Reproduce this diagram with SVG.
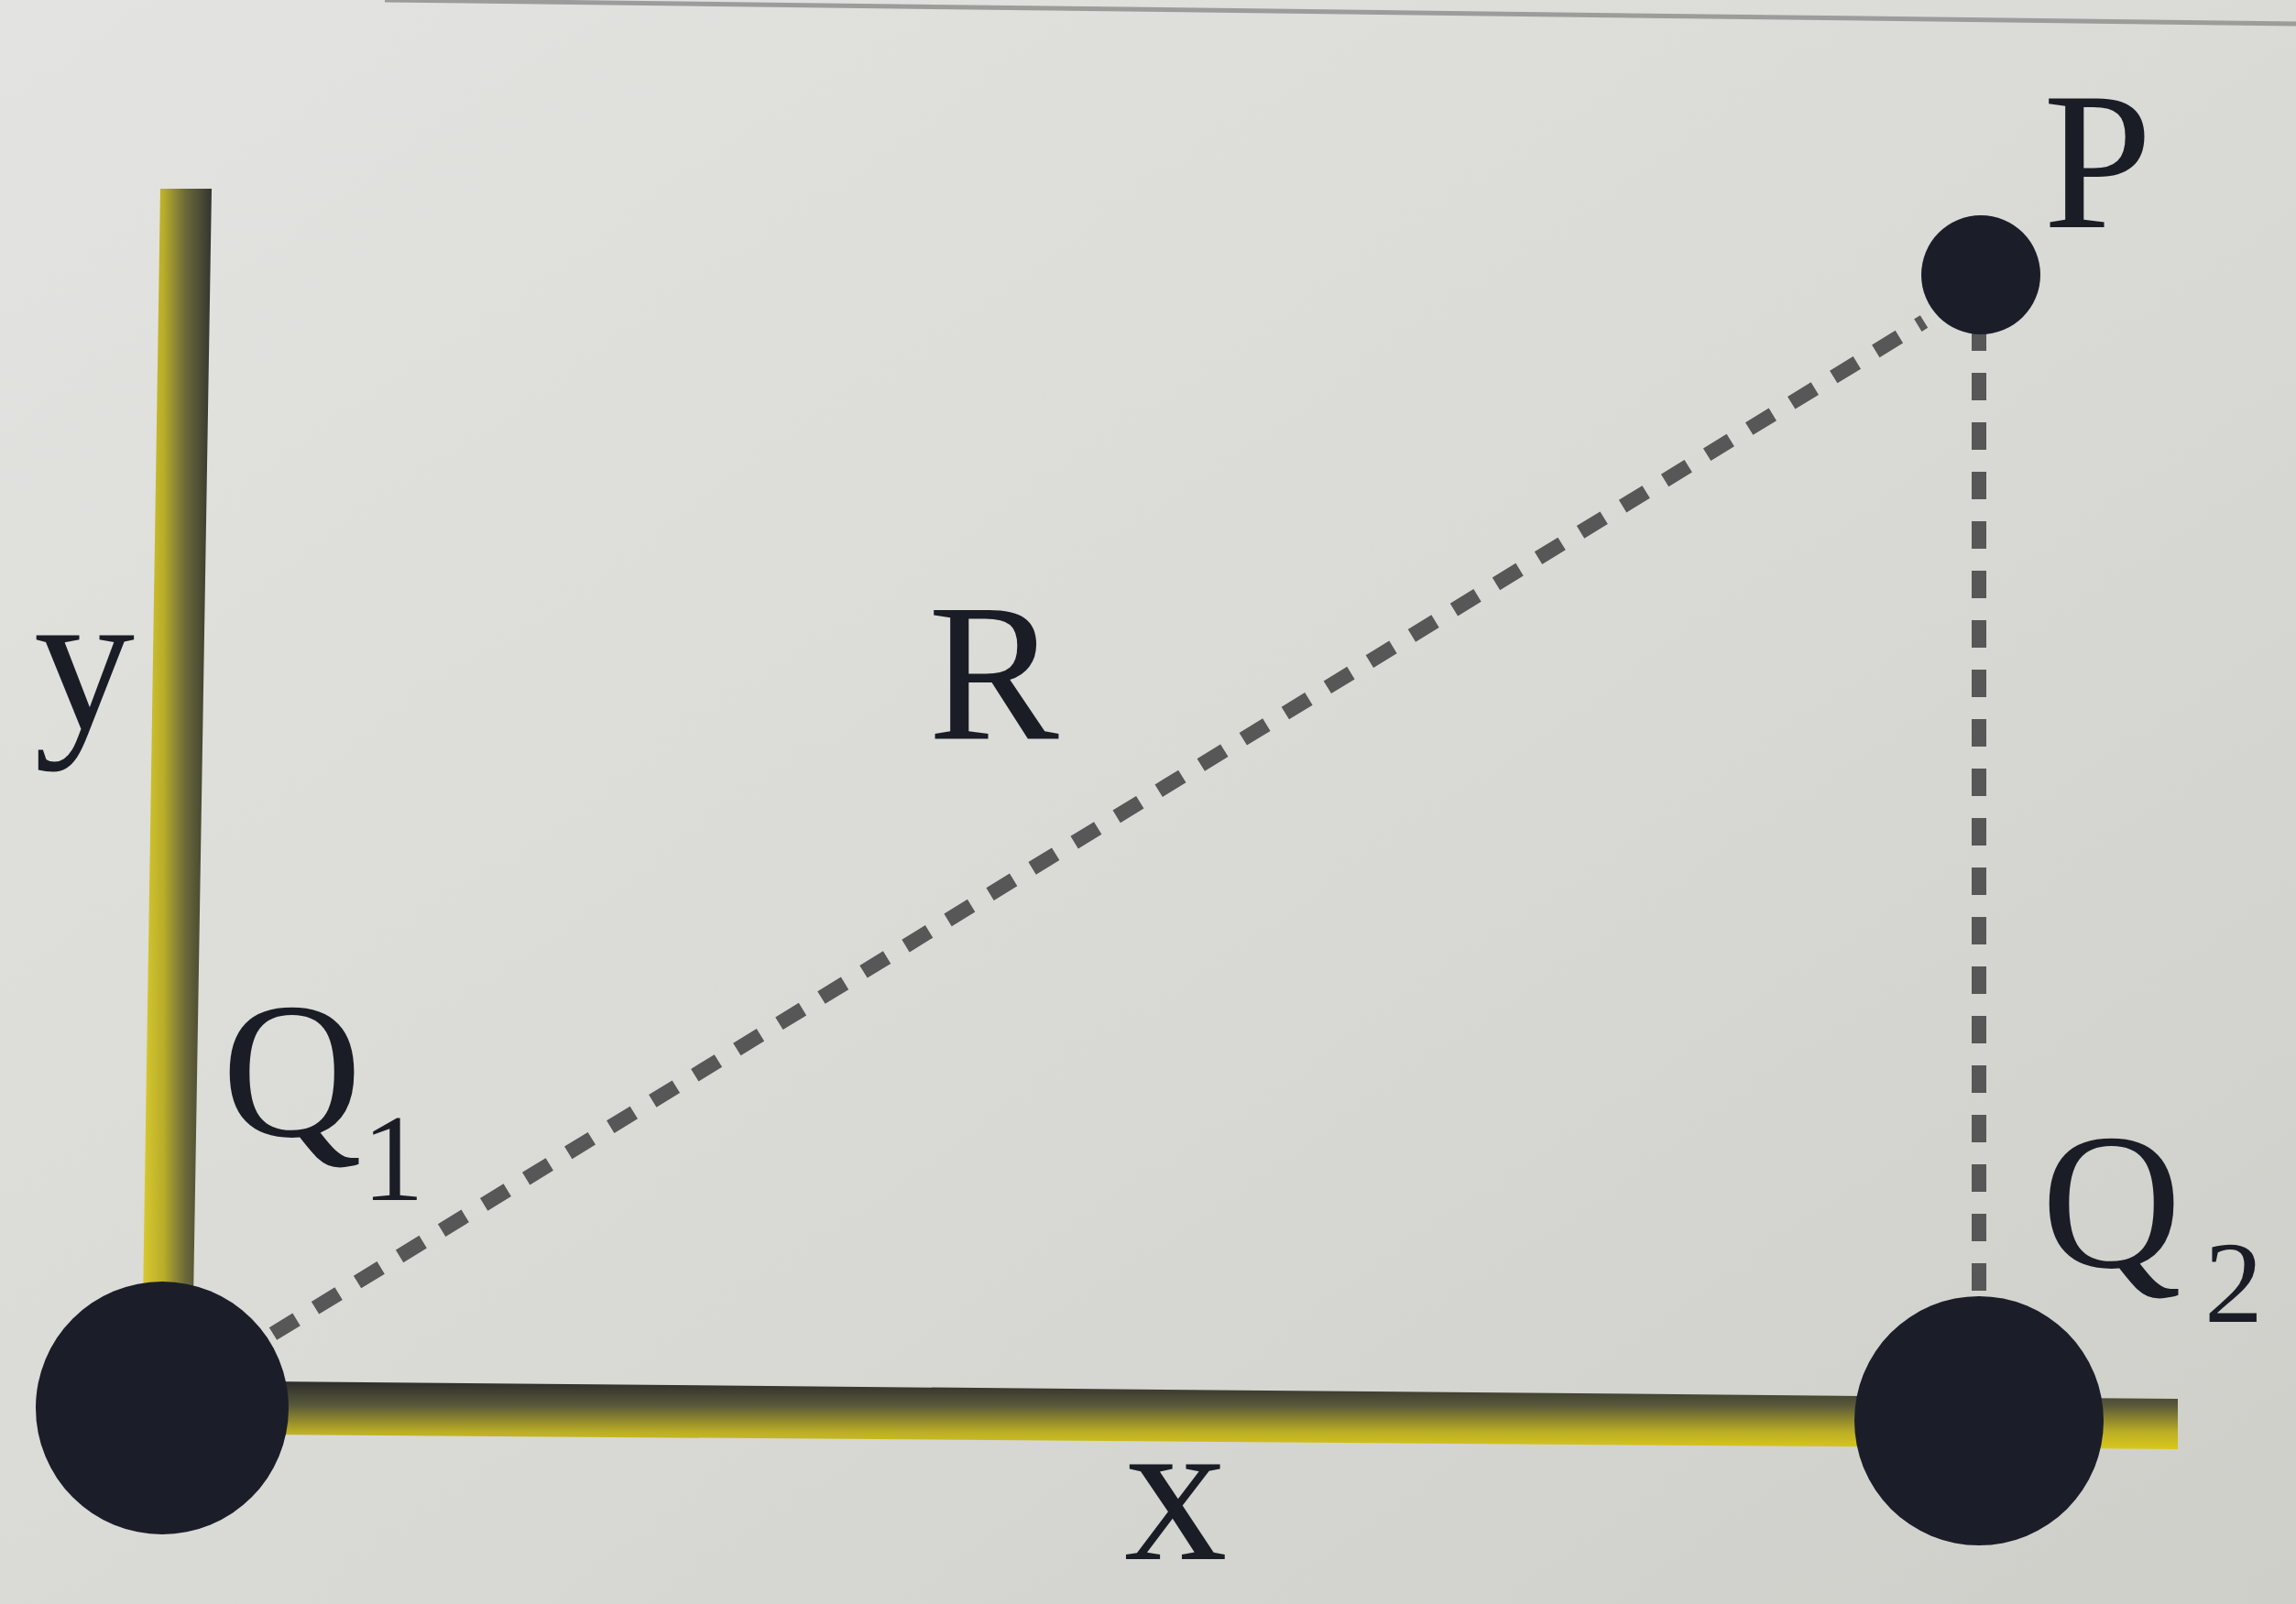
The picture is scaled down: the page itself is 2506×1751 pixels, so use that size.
<svg xmlns="http://www.w3.org/2000/svg" width="2506" height="1751" viewBox="0 0 2506 1751">
  <defs>
    <linearGradient id="bg" x1="0" y1="0" x2="1" y2="1">
      <stop offset="0" stop-color="#e3e4e1"/>
      <stop offset="0.5" stop-color="#dadad6"/>
      <stop offset="1" stop-color="#cfcfca"/>
    </linearGradient>
    <linearGradient id="ygrad" x1="0" y1="0" x2="1" y2="0">
      <stop offset="0" stop-color="#d8c92e"/>
      <stop offset="0.3" stop-color="#b9ad2a"/>
      <stop offset="0.6" stop-color="#6e6c3a"/>
      <stop offset="1" stop-color="#34352f"/>
    </linearGradient>
    <linearGradient id="xgrad" x1="0" y1="0" x2="0" y2="1">
      <stop offset="0" stop-color="#2c2d2b"/>
      <stop offset="0.35" stop-color="#59583a"/>
      <stop offset="0.75" stop-color="#bcae25"/>
      <stop offset="1" stop-color="#d9c81c"/>
    </linearGradient>
    <style>
      .charge { fill: #1b1e29; }
      .dash { stroke: #565756; stroke-width: 16; stroke-dasharray: 30 24; fill: none; }
      .lbl { font-family: "Liberation Serif", "Times New Roman", serif; fill: #1a1d25; }
    </style>
  </defs>

  <rect x="0" y="0" width="2506" height="1751" fill="url(#bg)"/>
  <line x1="420" y1="0" x2="2506" y2="26" stroke="#9c9d9b" stroke-width="5"/>

  <g id="axis-y">
    <polygon points="175,206 231,206 211,1420 156,1420" fill="url(#ygrad)"/>
  </g>
  <g id="axis-x">
    <polygon points="290,1508 2377,1527 2377,1582 290,1566" fill="url(#xgrad)"/>
  </g>

  <g id="connectors">
    <line class="dash" x1="298" y1="1456" x2="2100" y2="351"/>
    <line class="dash" x1="2160" y1="353" x2="2160" y2="1418"/>
  </g>

  <g id="Q1">
    <circle class="charge" cx="177" cy="1537" r="138"/>
  </g>
  <g id="Q2">
    <circle class="charge" cx="2160" cy="1551" r="136"/>
  </g>
  <g id="P">
    <circle class="charge" cx="2162" cy="300" r="65"/>
  </g>

  <g id="labels">
    <text class="lbl" x="37" y="795" font-size="220">y</text>
    <text class="lbl" x="1013" y="807" font-size="214">R</text>
    <text class="lbl" x="2230" y="248" font-size="214">P</text>
    <text class="lbl" x="1227" y="1702" font-size="225">x</text>
    <text class="lbl" x="242" y="1240" font-size="212">Q<tspan font-size="136" dy="70">1</tspan></text>
    <text class="lbl" x="2228" y="1383" font-size="212">Q<tspan font-size="128" dx="25" dy="60">2</tspan></text>
  </g>
</svg>
